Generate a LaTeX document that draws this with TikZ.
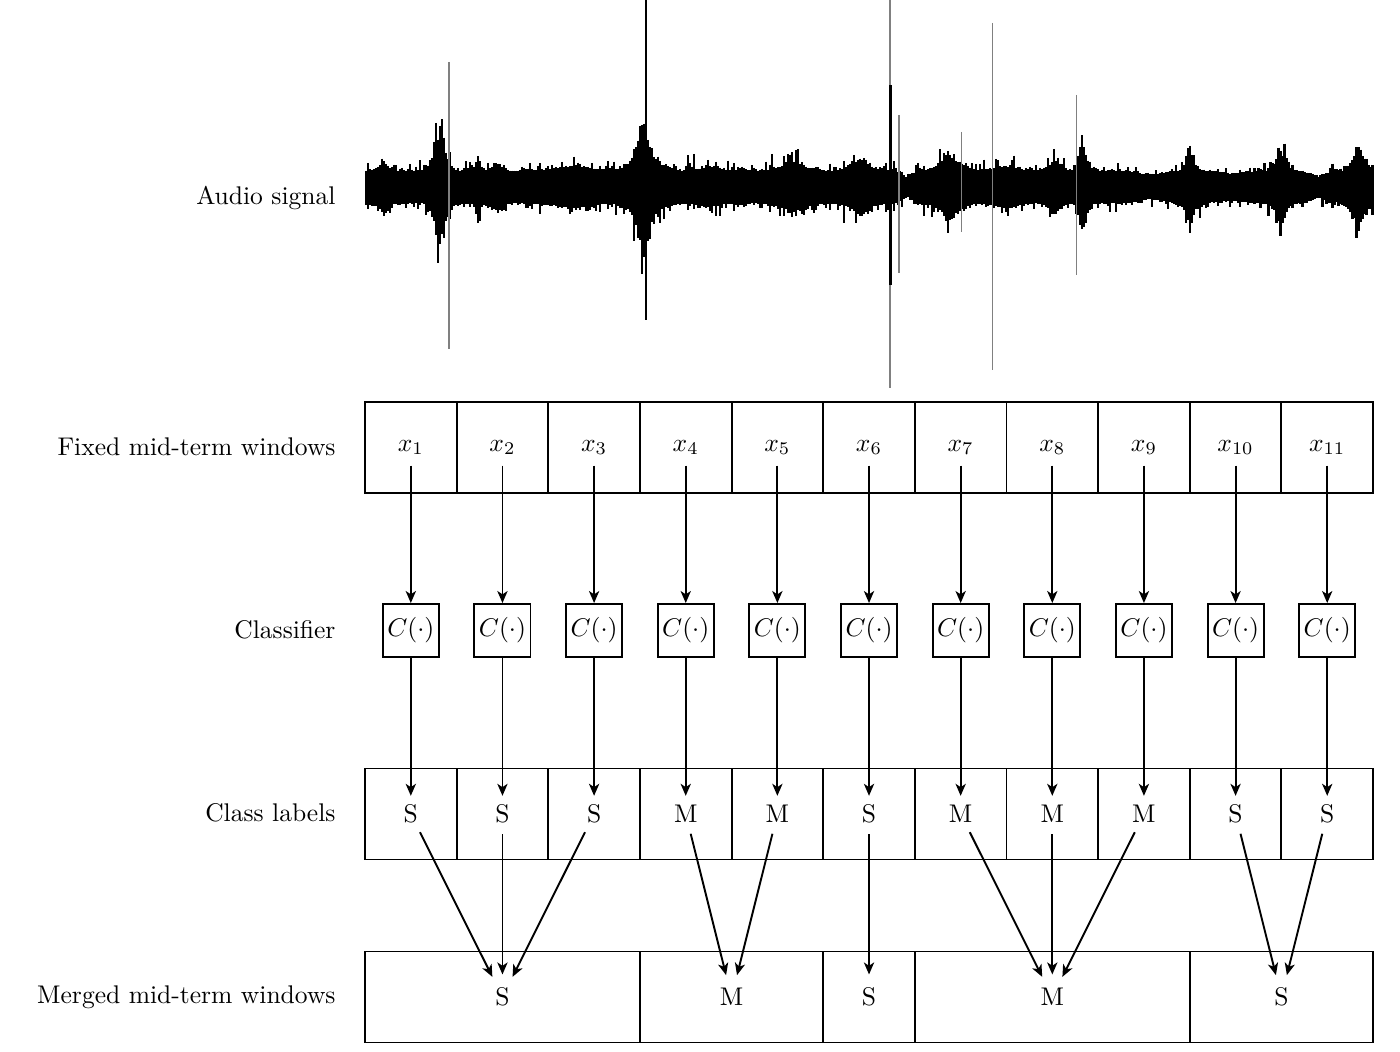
\documentclass[tikz,border=0pt]{standalone}
\usepackage{amsmath,amssymb}
\usepackage{tikz}
\usetikzlibrary{arrows.meta,positioning,calc}

\begin{document}
\begin{tikzpicture}[x=1.376cm, y=1.376cm,
    cell/.style={draw, line width=0.75pt, minimum width=12.61mm, minimum height=12.52mm, inner sep=0pt, outer sep=0pt},
    clf/.style={draw, line width=0.75pt, minimum width=7.71mm, minimum height=7.29mm, inner sep=0pt},
    flow/.style={-{Stealth[length=4.7pt,width=4pt,inset=1.3pt]}, line width=0.75pt},
    rowlabel/.style={anchor=east, inner sep=0pt},
    declare function={bmp(\x,\c,\w)=max(0,1-abs(\x-\c)/\w)^2;
        env(\x)=25-12*bmp(\x,907,16)-8*bmp(\x,1150,35)-5*bmp(\x,1232,40)-9*bmp(\x,1318,30)
        +14*bmp(\x,383,15)+60*bmp(\x,440,18)+22*bmp(\x,478,8)+12*bmp(\x,497,15)
        +8*bmp(\x,575,50)+55*bmp(\x,643,16)+25*bmp(\x,645,40)+6*bmp(\x,708,30)
        +14*bmp(\x,793,35)+16*bmp(\x,860,30)+22*bmp(\x,950,30)+6*bmp(\x,1005,40)
        +16*bmp(\x,1055,18)+42*bmp(\x,1083,12)+34*bmp(\x,1190,12)+28*bmp(\x,1280,15)
        +36*bmp(\x,1358,18);}]
    \useasboundingbox (0,0) rectangle (14,-10.52);

    % row titles
    \node[rowlabel] (tsig) at (3.36,-1.98) {Audio signal};
    \node[rowlabel] (twin) at (3.36,-4.47) {Fixed mid-term windows};
    \node[rowlabel] (tclf) at (3.36,-6.30) {Classifier};
    \node[rowlabel] (tlab) at (3.36,-8.13) {Class labels};
    \node[rowlabel] (tmrg) at (3.36,-9.97) {Merged mid-term windows};

    % waveform
    \begin{scope}[shift={(0,-1.87)}, x=0.01376cm, y=0.01376cm]
        \pgfmathsetseed{42}
        \foreach \px in {366,368,...,1372} {
            \pgfmathsetmacro\amp{env(\px)}
            \pgfmathsetmacro\up{\amp*(0.65+0.7*rnd*rnd*rnd)}
            \pgfmathsetmacro\dn{\amp*(0.65+0.7*rnd*rnd*rnd)}
            \draw[line width=0.033cm] (\px,\up) -- (\px,-\dn);
        }
        \draw[gray, line width=0.02cm] (449,125) -- (449,-162);
        \draw[line width=0.025cm] (646,187) -- (646,-133);
        \draw[gray, line width=0.02cm] (890,187) -- (890,-201);
        \draw[line width=0.04cm] (890,102) -- (890,-98);
        \draw[gray, line width=0.02cm] (899,72) -- (899,-86);
        \draw[gray, line width=0.02cm] (961,55) -- (961,-45);
        \draw[gray, line width=0.02cm] (992,164) -- (992,-183);
        \draw[gray, line width=0.02cm] (1076,92) -- (1076,-88);
    \end{scope}

    % windows, classifiers, labels
    \foreach \i/\k in {1/S,2/S,3/S,4/M,5/M,6/S,7/M,8/M,9/M,10/S,11/S} {
        \node[cell] (x\i) at ({3.65+0.9164*(\i-0.5)},-4.475) {$x_{\i}$};
        \node[clf] (c\i) at ({3.65+0.9164*(\i-0.5)},-6.305) {$C(\cdot)$};
        \node[cell] (l\i) at ({3.65+0.9164*(\i-0.5)},-8.14) {\k};
        \draw[flow, shorten <=0.25cm] (x\i.center) -- (c\i);
        \draw[flow, shorten >=0.25cm] (c\i) -- (l\i.center);
    }

    % merged windows
    \foreach \j/\a/\n/\k in {1/0/3/S,2/3/2/M,3/5/1/S,4/6/3/M,5/9/2/S}
        \node[cell, minimum width=\n*12.61mm] (m\j) at ({3.65+0.9164*(\a+\n/2)},-9.97) {\k};
    \foreach \i/\j in {1/1,2/1,3/1,4/2,5/2,6/3,7/4,8/4,9/4,10/5,11/5}
        \draw[flow, shorten <=0.28cm, shorten >=0.31cm] (l\i.center) -- (m\j.center);
\end{tikzpicture}
\end{document}
